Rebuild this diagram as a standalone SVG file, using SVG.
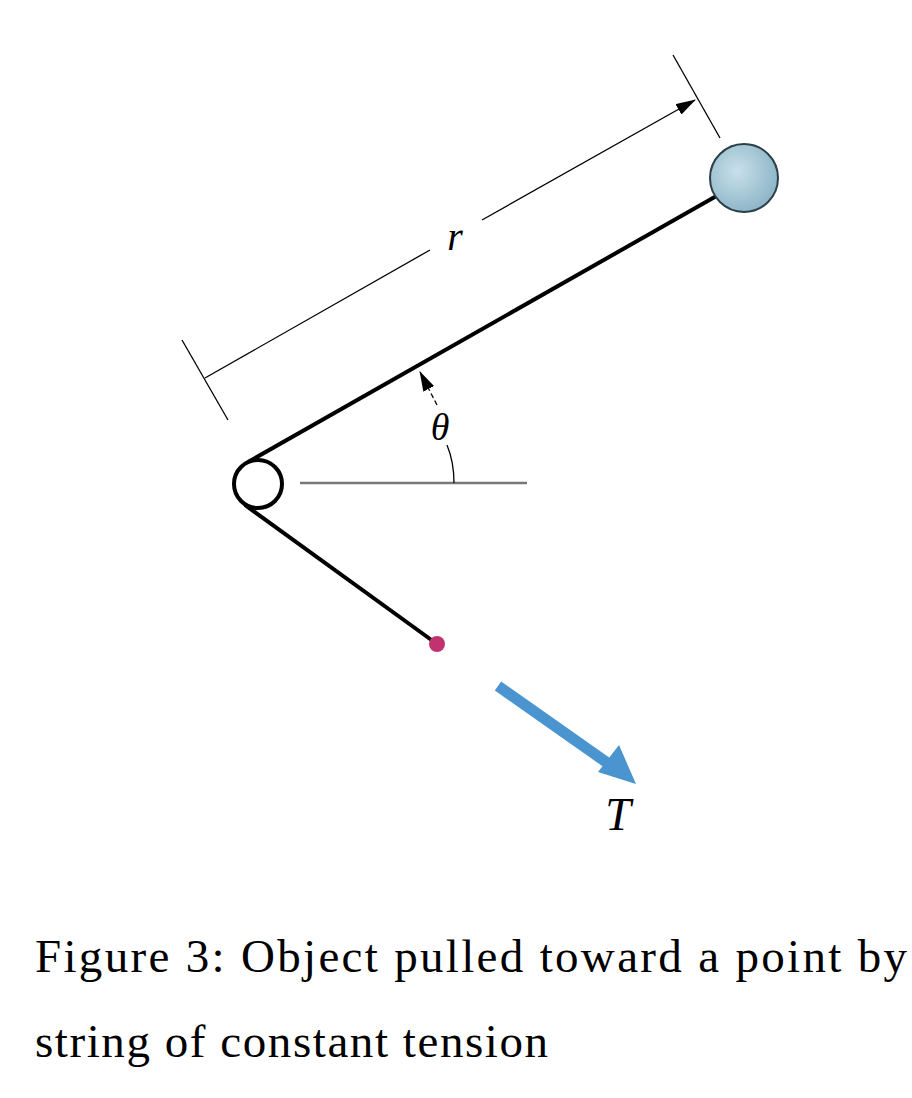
<svg xmlns="http://www.w3.org/2000/svg" width="912" height="1098" viewBox="0 0 912 1098">
<defs>
<radialGradient id="bg" cx="0.4" cy="0.4" r="0.6"><stop offset="0" stop-color="#c9e0ea"/><stop offset="1" stop-color="#8fb7c9"/></radialGradient>
<marker id="ah2" markerWidth="20" markerHeight="12" refX="19" refY="6" orient="auto" markerUnits="userSpaceOnUse" viewBox="0 0 20 12"><path d="M0,0 L20,6 L0,12 z" fill="#000"/></marker>
<style>
.thin{stroke:#000;stroke-width:1.3;fill:none}
.str{stroke:#000;stroke-width:4;fill:none}
.lbl{font-family:"Liberation Serif",serif;font-style:italic;fill:#000}
.cap{font-family:"Liberation Serif",serif;font-size:47px;fill:#000}
</style>
</defs>
<rect width="912" height="1098" fill="#fff"/>
<g id="connectors">
<line class="str" x1="248" y1="462" x2="720" y2="194"/>
<line class="str" x1="245" y1="505" x2="437" y2="644"/>
<line x1="300" y1="483" x2="527" y2="483" stroke="#777" stroke-width="2.5"/>
<path class="thin" d="M454,483 Q454,462 447,445"/>
<path class="thin" d="M437,405 L420,372" stroke-dasharray="5,3" marker-end="url(#ah2)"/>
<line class="thin" x1="182" y1="340" x2="228" y2="420"/>
<line class="thin" x1="673" y1="55" x2="720" y2="138"/>
<line class="thin" x1="205" y1="378" x2="430" y2="250"/>
<line class="thin" x1="482" y1="220" x2="695" y2="100" marker-end="url(#ah2)"/>
<line x1="498" y1="686" x2="616" y2="769" stroke="#4a95cf" stroke-width="11"/>
<path d="M636,784 L598,772 L619,745 z" fill="#4a95cf"/>
</g>
<g id="pulley"><circle cx="258" cy="484" r="24" fill="#fff" stroke="#000" stroke-width="4"/></g>
<g id="ball"><circle cx="744" cy="178" r="34" fill="url(#bg)" stroke="#2b3f48" stroke-width="2"/></g>
<g id="point"><circle cx="437" cy="644" r="8" fill="#c0336e"/></g>
<text class="lbl" x="455" y="250" font-size="40" text-anchor="middle">r</text>
<text class="lbl" x="440" y="440" font-size="38" text-anchor="middle">θ</text>
<text class="lbl" x="618" y="830" font-size="46" text-anchor="middle">T</text>
<text class="cap" x="35" y="972" textLength="872" lengthAdjust="spacing">Figure 3:  Object pulled toward a point by</text>
<text class="cap" x="35" y="1057" textLength="513" lengthAdjust="spacing">string of constant tension</text>
</svg>
